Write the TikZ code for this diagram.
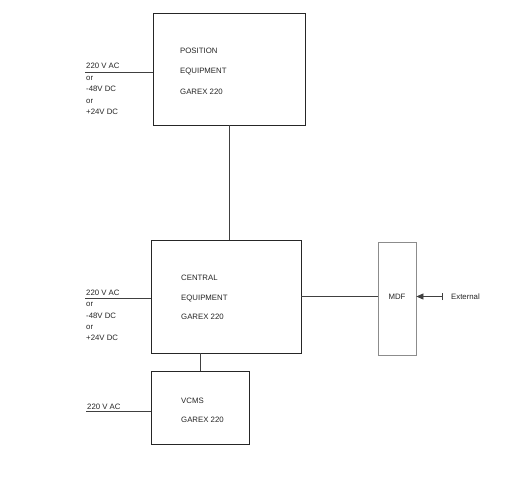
\documentclass[tikz,border=0pt]{standalone}
\usepackage{fontspec}
\setmainfont{Liberation Sans}
\usetikzlibrary{arrows.meta}
\begin{document}
\begin{tikzpicture}[x=1pt,y=-1pt,
  blk/.style={draw=black!85,line width=0.8pt,minimum width=#1,inner sep=0pt},
  lbl/.style={anchor=base west,inner sep=0pt,font=\fontsize{7.8}{9}\selectfont,text=black!85},
  wire/.style={draw=black!75,line width=0.7pt}]
\useasboundingbox (0,0) rectangle (506,495);
\fill[white] (0,0) rectangle (506,495);
% blocks
\node[blk=152pt,minimum height=112pt] (pos) at (229,69) {};
\node[blk=150pt,minimum height=113pt] (cen) at (226,296.5) {};
\node[blk=38pt,minimum height=113pt,draw=black!45] (mdf) at (397,298.5) {};
\node[blk=98pt,minimum height=73pt] (vcms) at (200,407.5) {};
% block texts
\node[lbl] (t1) at (180,54) {POSITION};
\node[lbl] (t2) at (180,74) {EQUIPMENT};
\node[lbl] (t3) at (180,94) {GAREX 220};
\node[lbl] (t4) at (181,280) {CENTRAL};
\node[lbl] (t5) at (181,300) {EQUIPMENT};
\node[lbl] (t6) at (181,319) {GAREX 220};
\node[lbl] (t7) at (181,403) {VCMS};
\node[lbl] (t8) at (181,422) {GAREX 220};
\node[lbl,anchor=center] (tm) at (397,296.5) {MDF};
\node[lbl] (tex) at (451,299) {External};
% connectors
\draw[wire] (pos.south) -- (pos.south |- cen.north);
\draw[wire] (cen.east) -- (cen.east -| mdf.west);
\draw[wire] (vcms.north) -- (vcms.north |- cen.south);
\coordinate (ext) at (442,296.5);
\draw[wire,-{Triangle[length=7pt,width=6pt]}] (ext) -- (ext -| mdf.east);
\draw[wire,line width=0.5pt] ([yshift=-3.5pt]ext) -- ([yshift=3.5pt]ext);
% power feeds
\coordinate (p1) at (85,72);
\coordinate (p2) at (85,298);
\coordinate (p3) at (86,411);
\draw[wire] (p1) -- (p1 -| pos.west);
\draw[wire] (p2) -- (p2 -| cen.west);
\draw[wire] (p3) -- (p3 -| vcms.west);
\foreach \y/\t [count=\i] in {69/220 V AC,80.5/or,92/-48V DC,103/or,114/+24V DC}
  \node[lbl] (a\i) at (86,\y) {\t};
\foreach \y/\t [count=\i] in {295/220 V AC,306.5/or,318/-48V DC,329/or,340/+24V DC}
  \node[lbl] (b\i) at (86,\y) {\t};
\node[lbl] (c1) at (87,409) {220 V AC};
\end{tikzpicture}
\end{document}
